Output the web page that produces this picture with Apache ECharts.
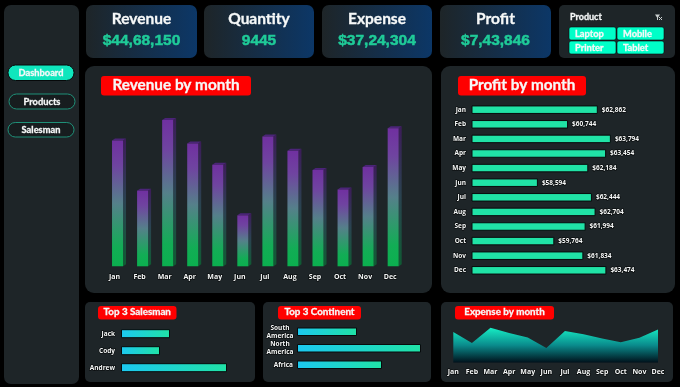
<!DOCTYPE html>
<html><head><meta charset="utf-8">
<style>html,body{margin:0;padding:0;background:#000}#c{width:680px;height:387px}</style>
<script src="https://cdn.jsdelivr.net/npm/echarts@6/dist/echarts.min.js"></script>
</head><body><div id="c"></div>
<script>
const months=['Jan','Feb','Mar','Apr','May','Jun','Jul','Aug','Sep','Oct','Nov','Dec'];
const revenue=[388650,346000,406000,386000,368000,325000,392000,380000,363500,347000,366000,399000];
const profit=[62862,60744,63794,63454,62184,58594,62444,62704,61994,59764,61834,63474];
const expense=[325800,285250,342200,322550,305800,266400,329550,317300,301500,287250,304150,335500];
const salesmen=['Jack','Cody','Andrew'];
const salesmanValues=[49,39,106];
const continents=['South\nAmerica','North\nAmerica','Africa'];
const continentValues=[60,124,85];
const kpiNames=['Revenue','Quantity','Expense','Profit'];
const kpiValues=['$44,68,150','9445','$37,24,304','$7,43,846'];
const navItems=['Dashboard','Products','Salesman'];
const products=['Laptop','Mobile','Printer','Tablet'];

const TF='Lato,"Open Sans",sans-serif';
const SF='"Open Sans",sans-serif';
const panel='#1e2528', white='#f6f8f8', halo='#050808';
const grad=(x,y,x2,y2,stops)=>new echarts.graphic.LinearGradient(x,y,x2,y2,
  stops.map((color,i)=>Array.isArray(color)?{offset:color[0],color:color[1]}:{offset:i/(stops.length-1),color}));

function rect(x,y,w,h,r,fill,stroke,lw){
  return {type:'rect',silent:true,shape:{x,y,width:w,height:h,r},style:{fill,stroke:stroke||null,lineWidth:lw||0}};
}
function txt(x,y,text,size,fill,align,font,border,blw){
  return {type:'text',silent:true,x,y,style:{text,fontSize:size,fontWeight:'bold',fontFamily:font||TF,fill,
    align:align||'center',verticalAlign:'middle',stroke:border||null,lineWidth:border?(blw||1):0}};
}
const g=[];
// panels
g.push(rect(4,5,75,379,7,panel));
[[86,111],[204,110],[322,110],[440,111]].forEach(([x,w],i)=>{
  g.push(rect(x,5,w,53,7,grad(0,0,1,0,['#1e2528','#0c3767'])));
  g.push(txt(x+w/2,19,kpiNames[i],15.5,white,'center',TF,white,.3));
  g.push(txt(x+w/2,41,kpiValues[i],15.5,'#1fcb98','center','"Liberation Sans",Arial,sans-serif','#1fcb98',.5));
});
g.push(rect(559,5,116,53,5,panel));
g.push(rect(85,66,347,227,9,panel));
g.push(rect(441,66,234,227,9,panel));
g.push(rect(85,302,170,80,5,panel));
g.push(rect(263,302,168,80,5,panel));
g.push(rect(441,302,232,80,5,panel));
// nav
const navBoxes=[[8,65,66,15.5],[9,94,66,15],[8,122.5,66,14.5]];
navItems.forEach((n,i)=>{
  const [x,y,w,h]=navBoxes[i];
  if(i===0) g.push(rect(x,y,w,h,7.5,'#0fe6bd','#06090a',1));
  else g.push(rect(x,y,w,h,7.5,'#171d1f','#1f9078',1));
  g.push(txt(x+w/2,y+h/2,n,9.3,white,'center',TF,white,.3));
});
// slicer
g.push(txt(570,17,'Product',9,white,'left',TF,white,.3));
[[569,27],[617,27],[569,41],[617,41]].forEach(([x,y],i)=>{
  g.push(rect(x,y,47,13,2,'#00ffc8','#06090a',.6));
  g.push(txt(x+6,y+6.8,products[i],9.3,white,'left',TF,white,.3));
});
g.push({type:'polygon',silent:true,shape:{points:[[655,14.5],[660,14.5],[658,17.5],[658,20],[657,20],[657,17.5]]},style:{fill:'#c9cfcf'}});
g.push({type:'polyline',silent:true,shape:{points:[[659,17],[662,20]]},style:{stroke:'#c9cfcf',lineWidth:1,fill:null}});
g.push({type:'polyline',silent:true,shape:{points:[[662,17],[659,20]]},style:{stroke:'#c9cfcf',lineWidth:1,fill:null}});
// red titles
[[101,76,150,19.5,'Revenue by month',15.3],[458,76,128,19.5,'Profit by month',15.3],
 [98,306,78.5,13.5,'Top 3 Salesman',9.8],[278,306,83,13.5,'Top 3 Continent',9.8],[455,306,99,13.5,'Expense by month',9.8]]
.forEach(([x,y,w,h,t,s])=>{
  g.push(rect(x,y,w,h,3,'#ff0000'));
  g.push(txt(x+w/2,y+h/2-.5,t,s,white,'center',TF,white,.3));
});

const axLabel=(size,extra)=>Object.assign({color:white,fontSize:size,fontWeight:'bold',fontFamily:SF,
  textBorderColor:halo,textBorderWidth:1.2},extra||{});
const hidden={show:false};
function catAxis(data,size,extra,over){
  return Object.assign({type:'category',data,axisLine:hidden,axisTick:hidden,splitLine:hidden,axisLabel:axLabel(size,extra)},over||{});
}
function valAxis(min,max){return {type:'value',min,max,show:false};}

const option={
  animation:false,backgroundColor:'#000',
  graphic:{elements:g},
  grid:[
    {left:102,top:95.1,width:300.7,height:171.2},
    {left:472,top:102.4,width:150.2,height:175.2},
    {left:121,top:325.2,width:110,height:51},
    {left:297,top:323.5,width:130,height:49.5},
    {left:453.3,top:322.7,width:204.7,height:40}
  ],
  xAxis:[
    catAxis(months,7,{margin:7}),
    valAxis(53900,64600),
    valAxis(0,110),
    valAxis(0,130),
    catAxis(months,7,{margin:6,interval:0},{boundaryGap:false})
  ].map((a,i)=>Object.assign(a,{gridIndex:i})),
  yAxis:[
    valAxis(281700,427200),
    catAxis(months,6.5,{margin:6},{inverse:true}),
    catAxis(salesmen,6.5,{margin:6},{inverse:true}),
    catAxis(continents,6.5,{margin:17,align:'center',lineHeight:8,
      formatter:v=>v.includes('\n')?v:'\u00a0\u00a0\u00a0\u00a0'+v},{inverse:true}),
    valAxis(211000,361000)
  ].map((a,i)=>Object.assign(a,{gridIndex:i})),
  series:[
    {type:'custom',xAxisIndex:0,yAxisIndex:0,data:revenue.map((v,i)=>[i,v]),clip:false,
     renderItem(params,api){
       const top=api.coord([api.value(0),api.value(1)]);
       const base=api.coord([api.value(0),281700]);
       const w=11,d=3,x=top[0]-2.5,y=top[1],b=base[1];
       return {type:'group',children:[
         {type:'polygon',shape:{points:[[x+w,y],[x+w+d,y-2],[x+w+d,b-2],[x+w,b]]},
          style:{fill:grad(0,0,0,1,[[0,'#3d1c5a'],[.5,'#2a4350'],[1,'#0f5c33']])}},
         {type:'polygon',shape:{points:[[x,y],[x+d,y-2],[x+w+d,y-2],[x+w,y]]},style:{fill:'#4b2478'}},
         {type:'rect',shape:{x,y,width:w,height:b-y},
          style:{fill:grad(0,0,0,1,[[0,'#7030a0'],[.2,'#6f44a0'],[.5,'#55808a'],[.85,'#12ad55'],[1,'#0bb04f']])}}
       ]};
     }},
    {type:'bar',xAxisIndex:1,yAxisIndex:1,data:profit,barWidth:8.5,
     itemStyle:{color:'#20e3a6',borderColor:'#070b0c',borderWidth:1},
     label:{show:true,position:'right',distance:4,formatter:p=>'$'+p.value.toLocaleString('en-US'),
       color:white,fontSize:6.5,fontWeight:'bold',fontFamily:SF,textBorderColor:halo,textBorderWidth:1.2}},
    {type:'bar',xAxisIndex:2,yAxisIndex:2,data:salesmanValues,barWidth:9,
     itemStyle:{color:grad(0,0,1,0,['#1cc8f0','#20e3a6']),borderColor:'#070b0c',borderWidth:1}},
    {type:'bar',xAxisIndex:3,yAxisIndex:3,data:continentValues,barWidth:8.5,
     itemStyle:{color:grad(0,0,1,0,['#1cc8f0','#20e3a6']),borderColor:'#070b0c',borderWidth:1}},
    {type:'line',xAxisIndex:4,yAxisIndex:4,data:expense,symbol:'none',
     lineStyle:{width:0},
     areaStyle:{opacity:1,origin:'start',color:grad(0,0,0,1,['#16eec4','#0a8b8c','#00101a'])}}
  ]
};
echarts.init(document.getElementById('c'),null,{renderer:'canvas'}).setOption(option);
</script></body></html>
